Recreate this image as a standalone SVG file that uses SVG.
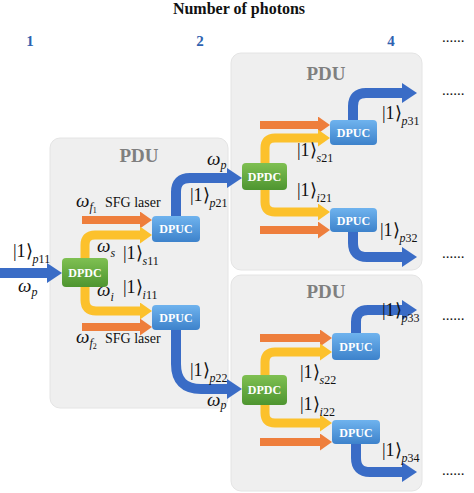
<svg xmlns="http://www.w3.org/2000/svg" width="474" height="493" viewBox="0 0 474 493" font-family="Liberation Serif">
<defs>
<linearGradient id="gG" x1="0" y1="0" x2="0" y2="1"><stop offset="0" stop-color="#7fc052"/><stop offset="1" stop-color="#4e9530"/></linearGradient>
<linearGradient id="gB" x1="0" y1="0" x2="0" y2="1"><stop offset="0" stop-color="#6fb3ee"/><stop offset="1" stop-color="#3d82cb"/></linearGradient>
<marker id="hb" markerUnits="userSpaceOnUse" markerWidth="15" markerHeight="20" refX="1" refY="10" orient="auto"><path d="M0,0 L15,10 L0,20 z" fill="#3a6cc6"/></marker>
<marker id="ho" markerUnits="userSpaceOnUse" markerWidth="12" markerHeight="17" refX="1" refY="8.5" orient="auto"><path d="M0,0 L12,8.5 L0,17 z" fill="#ee7e3c"/></marker>
<marker id="hy" markerUnits="userSpaceOnUse" markerWidth="12" markerHeight="17" refX="1" refY="8.5" orient="auto"><path d="M0,0 L12,8.5 L0,17 z" fill="#fcc12c"/></marker>
<style>
text{font-family:"Liberation Serif",serif;}
.pdu{fill:#efefef;stroke:#e4e4e4;stroke-width:1;}
.pdut{font-size:19px;font-weight:bold;fill:#7f7f7f;text-anchor:middle;}
.dpdc{fill:url(#gG);}
.dpuc{fill:url(#gB);}
.nl{font-size:12px;font-weight:bold;fill:#ffffff;text-anchor:middle;}
.b{fill:none;stroke:#3a6cc6;stroke-width:10;marker-end:url(#hb);}
.o{fill:none;stroke:#ee7e3c;stroke-width:8;marker-end:url(#ho);}
.y{fill:none;stroke:#fcc12c;stroke-width:9;marker-end:url(#hy);}
.ket{font-size:18px;fill:#111;}
.sub{font-size:12px;}
.it{font-style:italic;}
.om{font-size:19px;font-style:italic;fill:#111;}
.lab{font-size:14px;fill:#111;}
.num{font-size:15px;font-weight:bold;fill:#2f62b0;text-anchor:middle;}
.dots{font-size:15px;fill:#111;}
</style>
</defs>
<rect width="474" height="493" fill="#ffffff"/>

<text x="239" y="14" font-size="16" font-weight="bold" text-anchor="middle" fill="#111">Number of photons</text>
<text class="num" x="30" y="46">1</text>
<text class="num" x="200" y="46">2</text>
<text class="num" x="391" y="46">4</text>
<text class="dots" x="442" y="42">......</text>

<g id="pdu1"><rect class="pdu" x="50" y="138" width="178" height="270" rx="10"/><text class="pdut" x="139" y="162">PDU</text></g>
<g id="pdu2"><rect class="pdu" x="231" y="53" width="191" height="217" rx="10"/><text class="pdut" x="326" y="80">PDU</text></g>
<g id="pdu3"><rect class="pdu" x="231" y="275" width="191" height="216" rx="10"/><text class="pdut" x="326" y="298">PDU</text></g>

<g id="connectors">
<path class="b" d="M0,273 L48,273"/>
<path class="o" d="M82,220 L141,220"/>
<path class="y" d="M85,258 L85,245 Q85,235 95,235 L141,235"/>
<path class="b" d="M176,216 L176,192 Q176,178 190,178 L228,178"/>
<path class="y" d="M85,287 L85,300 Q85,311 96,311 L141,311"/>
<path class="o" d="M82,327 L141,327"/>
<path class="b" d="M176,330 L176,364 Q176,389 201,389 L228,389"/>

<path class="o" d="M260,125 L319,125"/>
<path class="y" d="M265,163 L265,148 Q265,138 275,138 L319,138"/>
<path class="b" d="M353,120 L353,106 Q353,93 366,93 L403,93"/>
<path class="y" d="M265,190 L265,202 Q265,212 275,212 L319,212"/>
<path class="o" d="M260,230 L319,230"/>
<path class="b" d="M353,232 L353,243 Q353,257 367,257 L403,257"/>

<path class="o" d="M260,338 L321,338"/>
<path class="y" d="M265,375 L265,362 Q265,352 275,352 L321,352"/>
<path class="b" d="M356,333 L356,322 Q356,310 368,310 L403,310"/>
<path class="y" d="M265,405 L265,413 Q265,423 275,423 L321,423"/>
<path class="o" d="M260,442 L321,442"/>
<path class="b" d="M356,444 L356,458 Q356,472 370,472 L403,472"/>
</g>

<g id="dpdc1"><rect class="dpdc" x="62" y="258" width="46" height="29" rx="4"/><text class="nl" x="85" y="277">DPDC</text></g>
<g id="dpuc1"><rect class="dpuc" x="152" y="216" width="48" height="26" rx="4"/><text class="nl" x="176" y="233">DPUC</text></g>
<g id="dpuc2"><rect class="dpuc" x="152" y="305" width="48" height="25" rx="4"/><text class="nl" x="176" y="322">DPUC</text></g>
<g id="dpdc2"><rect class="dpdc" x="242" y="163" width="45" height="27" rx="4"/><text class="nl" x="264.5" y="181">DPDC</text></g>
<g id="dpuc3"><rect class="dpuc" x="330" y="120" width="47" height="25" rx="4"/><text class="nl" x="353.5" y="137">DPUC</text></g>
<g id="dpuc4"><rect class="dpuc" x="330" y="208" width="47" height="24" rx="4"/><text class="nl" x="353.5" y="224.5">DPUC</text></g>
<g id="dpdc3"><rect class="dpdc" x="242" y="375" width="45" height="30" rx="4"/><text class="nl" x="264.5" y="394">DPDC</text></g>
<g id="dpuc5"><rect class="dpuc" x="332" y="333" width="48" height="27" rx="4"/><text class="nl" x="356" y="351">DPUC</text></g>
<g id="dpuc6"><rect class="dpuc" x="332" y="420" width="48" height="24" rx="4"/><text class="nl" x="356" y="436.5">DPUC</text></g>

<g id="labels">
<text class="ket" x="13" y="257">|1⟩<tspan class="sub" dy="6"><tspan class="it">p</tspan>11</tspan></text>
<text class="om" x="18" y="292">ω<tspan class="sub" dy="4">p</tspan></text>
<text class="om" x="76" y="207">ω<tspan class="sub" dy="4">f<tspan font-size="8" font-style="normal" dy="2">1</tspan></tspan></text>
<text class="lab" x="105" y="207">SFG laser</text>
<text class="om" x="97" y="252">ω<tspan class="sub" dy="5">s</tspan></text>
<text class="ket" x="123" y="259">|1⟩<tspan class="sub" dy="6"><tspan class="it">s</tspan>11</tspan></text>
<text class="om" x="97" y="296">ω<tspan class="sub" dy="5">i</tspan></text>
<text class="ket" x="123" y="293">|1⟩<tspan class="sub" dy="6"><tspan class="it">i</tspan>11</tspan></text>
<text class="om" x="207" y="165">ω<tspan class="sub" dy="4">p</tspan></text>
<text class="ket" x="190" y="201">|1⟩<tspan class="sub" dy="6"><tspan class="it">p</tspan>21</tspan></text>
<text class="om" x="76" y="343">ω<tspan class="sub" dy="4">f<tspan font-size="8" font-style="normal" dy="2">2</tspan></tspan></text>
<text class="lab" x="105" y="343">SFG laser</text>
<text class="ket" x="190" y="376">|1⟩<tspan class="sub" dy="6"><tspan class="it">p</tspan>22</tspan></text>
<text class="om" x="207" y="406">ω<tspan class="sub" dy="3">p</tspan></text>

<text class="ket" x="382" y="119">|1⟩<tspan class="sub" dy="6"><tspan class="it">p</tspan>31</tspan></text>
<text class="ket" x="297" y="156">|1⟩<tspan class="sub" dy="6"><tspan class="it">s</tspan>21</tspan></text>
<text class="ket" x="297" y="196">|1⟩<tspan class="sub" dy="6"><tspan class="it">i</tspan>21</tspan></text>
<text class="ket" x="380" y="236">|1⟩<tspan class="sub" dy="6"><tspan class="it">p</tspan>32</tspan></text>
<text class="dots" x="442" y="95">......</text>
<text class="dots" x="442" y="258">......</text>

<text class="ket" x="382" y="316">|1⟩<tspan class="sub" dy="6"><tspan class="it">p</tspan>33</tspan></text>
<text class="ket" x="300" y="378">|1⟩<tspan class="sub" dy="6"><tspan class="it">s</tspan>22</tspan></text>
<text class="ket" x="300" y="410">|1⟩<tspan class="sub" dy="6"><tspan class="it">i</tspan>22</tspan></text>
<text class="ket" x="382" y="456">|1⟩<tspan class="sub" dy="6"><tspan class="it">p</tspan>34</tspan></text>
<text class="dots" x="442" y="320">......</text>
<text class="dots" x="442" y="475">......</text>
</g>
</svg>
